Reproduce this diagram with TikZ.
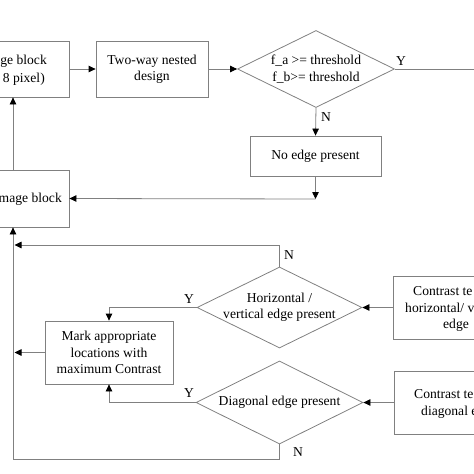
\documentclass[tikz,border=0pt]{standalone}
\usepackage{fontspec}
\setmainfont{Liberation Serif}
\usetikzlibrary{shapes.geometric,arrows.meta}
\definecolor{linegray}{HTML}{808080}
\tikzset{
  base/.style={font=\fontsize{13.6}{16.3}\selectfont, text=black},
  boxnode/.style={base, draw=linegray, line width=0.8pt, rectangle, align=center, inner sep=0pt},
  decision/.style={base, draw=linegray, line width=0.8pt, diamond, align=center, inner sep=0pt},
  frag/.style={base, inner sep=0pt},
  lbl/.style={base, inner sep=0pt},
  conn/.style={draw=linegray, line width=0.8pt},
  arr/.style={conn, -{Triangle[length=7pt,width=6.5pt,black]}},
}
\begin{document}
\begin{tikzpicture}[x=1pt,y=-1pt]
\useasboundingbox (0,0) rectangle (474,474);
\clip (0,0) rectangle (474,474);

% boxes
\node[boxnode, minimum width=112pt, minimum height=56pt] (blk1) at (13,69) {};
\node[frag, anchor=east] (blk1a) at (47,61) {ge block};
\node[frag, anchor=east] (blk1b) at (45,79) {8 pixel)};
\node[boxnode, minimum width=112pt, minimum height=56pt] (nest) at (152,69) {Two-way nested\\design};
\node[decision, minimum width=157pt, minimum height=77pt] (thr) at (316,69)
  {\makebox[0pt]{f\_a >= threshold}\\\makebox[0pt]{f\_b>= threshold}};
\node[boxnode, minimum width=131pt, minimum height=40pt] (noedge) at (315.5,156) {No edge present};
\node[boxnode, minimum width=112pt, minimum height=57pt] (blk2) at (13,198.5) {};
\node[frag, anchor=east] (blk2a) at (62,199) {mage block};

\node[decision, minimum width=165pt, minimum height=81pt] (hv) at (279.5,307.5)
  {\makebox[0pt]{Horizontal /}\\\makebox[0pt]{vertical edge present}};
\node[decision, minimum width=167pt, minimum height=83pt] (dg) at (279.5,402.5)
  {\makebox[0pt]{Diagonal edge present}};
\node[boxnode, minimum width=128pt, minimum height=63pt] (mark) at (109,352.5)
  {Mark appropriate\\locations with\\maximum Contrast};

\node[boxnode, minimum width=126pt, minimum height=63pt] (ct1) at (456,307.5) {};
\node[frag, anchor=west] (ct1a) at (413,291) {Contrast te};
\node[frag, anchor=west] (ct1b) at (405,308) {horizontal/ v};
\node[frag] (ct1c) at (456,325) {edge};
\node[boxnode, minimum width=126pt, minimum height=63pt] (ct2) at (457,402.5) {};
\node[frag, anchor=west] (ct2a) at (414,394) {Contrast te};
\node[frag, anchor=west] (ct2b) at (421,412) {diagonal e};

% coordinates
\coordinate (yout) at (480,69);
\coordinate (c1) at (315.5,199);
\coordinate (hvup) at (279.5,245);
\coordinate (loopL) at (13,245);
\coordinate (dgdn) at (279.5,459);
\coordinate (loopB) at (13,459);
\coordinate (markL) at (13,352.5);
\coordinate (hvY) at (109,307.5);
\coordinate (dgY) at (109,402.5);

% connectors
\draw[arr] (blk1.east) -- (nest.west);
\draw[arr] (nest.east) -- (thr.west);
\draw[conn] (thr.east) -- (yout);
\draw[arr] (thr.south) -- (noedge.north);
\draw[arr] (noedge.south) -- (c1);
\draw[arr] (c1) -- (blk2.east);
\draw[arr] (blk2.north) -- (blk1.south);

\draw[arr] (dg.south) -- (dgdn) -- (loopB) -- (blk2.south);
\draw[arr] (hv.north) -- (hvup) -- ([xshift=1.5pt]loopL);
\draw[arr] (mark.west) -- ([xshift=1.5pt]markL);
\draw[arr] (hv.west) -- (hvY) -- (mark.north);
\draw[arr] (dg.west) -- (dgY) -- (mark.south);
\draw[arr] (ct1.west) -- (hv.east);
\draw[arr] (ct2.west) -- (dg.east);

% labels
\node[lbl] (ly1) at (401,61) {Y};
\node[lbl] (ln1) at (326,117) {N};
\node[lbl] (ln2) at (289,255) {N};
\node[lbl] (ly2) at (189,299) {Y};
\node[lbl] (ly3) at (189,393) {Y};
\node[lbl] (ln3) at (298,452) {N};
\end{tikzpicture}
\end{document}
